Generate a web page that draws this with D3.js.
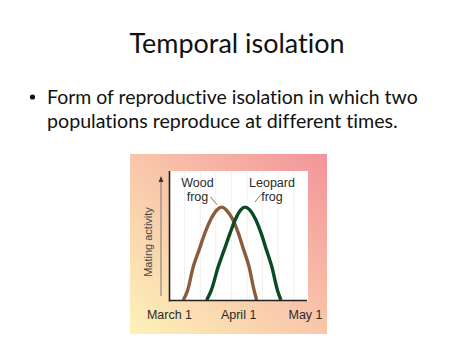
<!DOCTYPE html>
<html>
<head>
<meta charset="utf-8">
<script src="https://cdn.jsdelivr.net/npm/d3@7"></script>
<style>
  body { margin: 0; background: #fff; }
  svg { display: block; }
</style>
</head>
<body>
<div id="slide"></div>
<script>
// days after March 1, mating activity (relative)
var woodDays = [6.4, 8.3, 10.9, 13.5, 16.1, 19, 21.5, 23.6, 25.7, 28.3, 31.1, 33.5, 35.9, 38.2, 39.3];
var woodActivity = [0, 0.1, 0.36, 0.54, 0.72, 0.88, 0.97, 1, 0.97, 0.88, 0.72, 0.54, 0.36, 0.1, 0];
var leopardDays = [16.9, 18.9, 22.1, 24.75, 27.4, 30, 32.2, 34.1, 36.2, 38.6, 41.3, 43.7, 46.1, 48.7, 50.2];
var leopardActivity = [0, 0.1, 0.36, 0.54, 0.72, 0.88, 0.97, 1, 0.97, 0.88, 0.72, 0.54, 0.36, 0.1, 0];
var tickDays = [0, 31, 61];
var tickLabels = ["March 1", "April 1", "May 1"];
var titleText = "Temporal isolation";
var bulletLines = ["Form of reproductive isolation in which two",
                   "populations reproduce at different times."];

var W = 474, H = 355;
var svg = d3.select("#slide").append("svg")
  .attr("width", W).attr("height", H);

// fit text to a width measured off the slide
function fitText(sel, width) {
  var len = sel.node().getComputedTextLength();
  var fs = parseFloat(sel.attr("font-size"));
  sel.attr("font-size", (fs * width / len).toFixed(2));
}

var title = svg.append("text")
  .text(titleText)
  .attr("x", 237).attr("y", 53)
  .attr("text-anchor", "middle")
  .attr("font-family", "Lato, 'Open Sans', sans-serif")
  .style("font-variant-ligatures", "none")
  .attr("font-size", 28)
  .attr("fill", "#111");
fitText(title, 215);

svg.append("circle").attr("cx", 32.5).attr("cy", 97).attr("r", 2.6).attr("fill", "#111");
var lineW = [371, 351];
bulletLines.forEach(function(t, i) {
  var tx = svg.append("text")
    .text(t)
    .attr("x", 47).attr("y", 104 + i * 24)
    .attr("font-family", "Lato, 'Open Sans', sans-serif")
    .style("font-variant-ligatures", "none")
    .attr("font-size", 21)
    .attr("fill", "#111");
  fitText(tx, lineW[i]);
});

// picture panel
var defs = svg.append("defs");
var grad = defs.append("linearGradient").attr("id", "panelGrad")
  .attr("x1", "0").attr("y1", "1").attr("x2", "1").attr("y2", "0");
grad.append("stop").attr("offset", "0%").attr("stop-color", "#fdf2b8");
grad.append("stop").attr("offset", "50%").attr("stop-color", "#f9c6aa");
grad.append("stop").attr("offset", "100%").attr("stop-color", "#f3939a");

svg.append("rect")
  .attr("x", 130).attr("y", 154).attr("width", 197).attr("height", 180)
  .attr("fill", "url(#panelGrad)");

var x = d3.scaleLinear().domain([0, 61]).range([169, 305]);
var y = d3.scaleLinear().domain([0, 1.4]).range([300, 170]);

svg.append("rect")
  .attr("x", 169).attr("y", 171).attr("width", 139).attr("height", 130)
  .attr("fill", "#fff");

// faint guide lines
svg.append("g").selectAll("line")
  .data(d3.range(7, 61, 7))
  .join("line")
  .attr("x1", function(d) { return x(d); }).attr("x2", function(d) { return x(d); })
  .attr("y1", 172).attr("y2", 300)
  .attr("stroke", "#f3efed").attr("stroke-width", 1);

var line = d3.line()
  .x(function(d) { return x(d[0]); })
  .y(function(d) { return y(d[1]); })
  .curve(d3.curveMonotoneX);

svg.append("path")
  .datum(d3.zip(woodDays, woodActivity))
  .attr("d", line)
  .attr("fill", "none").attr("stroke", "#8a5b3d").attr("stroke-width", 3.4);

svg.append("path")
  .datum(d3.zip(leopardDays, leopardActivity))
  .attr("d", line)
  .attr("fill", "none").attr("stroke", "#0c4a22").attr("stroke-width", 3.4);

// frame lines
svg.append("line").attr("x1", 169.5).attr("x2", 169.5).attr("y1", 171).attr("y2", 301.5)
  .attr("stroke", "#222").attr("stroke-width", 1.6);

var xAxis = svg.append("g")
  .attr("transform", "translate(0,300.5)")
  .call(d3.axisBottom(x).tickValues(tickDays)
    .tickFormat(function(d, i) { return tickLabels[i]; })
    .tickSize(0).tickPadding(10));
xAxis.select(".domain").attr("stroke", "#222").attr("stroke-width", 1.6)
  .attr("d", "M169,0H307");
xAxis.selectAll("text")
  .attr("font-family", "'Liberation Sans', Arial, sans-serif")
  .attr("font-size", 12.5).attr("fill", "#2a2a2a");

// y arrow and label
defs.append("marker").attr("id", "arrow")
  .attr("viewBox", "0 0 10 10").attr("refX", 5).attr("refY", 5)
  .attr("markerWidth", 6).attr("markerHeight", 6).attr("orient", "auto")
  .append("path").attr("d", "M0,1L10,5L0,9Z").attr("fill", "#333");
svg.append("line").attr("x1", 161).attr("x2", 161).attr("y1", 296).attr("y2", 179)
  .attr("stroke", "#777").attr("stroke-width", 1)
  .attr("marker-end", "url(#arrow)");
svg.append("text")
  .text("Mating activity")
  .attr("transform", "translate(152,242) rotate(-90)")
  .attr("text-anchor", "middle")
  .attr("font-family", "'Liberation Sans', Arial, sans-serif")
  .attr("font-size", 11).attr("fill", "#444");

// curve labels
var labelFont = "'Liberation Sans', Arial, sans-serif";
[["Wood", 197.5, 186.5], ["frog", 197.5, 200.5], ["Leopard", 272, 186.5], ["frog", 272, 200.5]]
  .forEach(function(l) {
    svg.append("text").text(l[0])
      .attr("x", l[1]).attr("y", l[2])
      .attr("text-anchor", "middle")
      .attr("font-family", labelFont)
      .attr("font-size", 12.5).attr("fill", "#2a2a2a");
  });
svg.append("line").attr("x1", 210.5).attr("y1", 197).attr("x2", 217).attr("y2", 204.5)
  .attr("stroke", "#777").attr("stroke-width", 1);
svg.append("line").attr("x1", 261).attr("y1", 194.5).attr("x2", 255).attr("y2", 202)
  .attr("stroke", "#777").attr("stroke-width", 1);
</script>
</body>
</html>
